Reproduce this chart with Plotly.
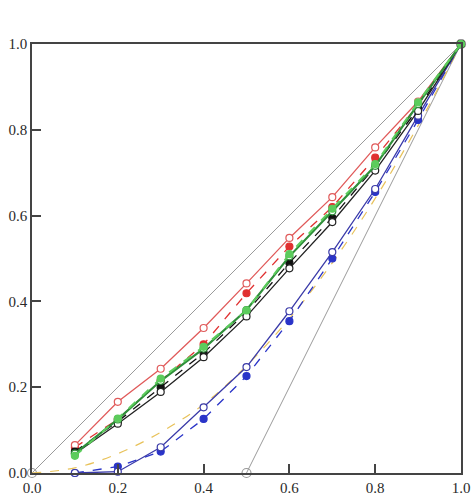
import plotly.graph_objects as go

x_pts = [0.1, 0.2, 0.3, 0.4, 0.5, 0.6, 0.7, 0.8, 0.9, 1.0]

red_open = [0.065, 0.166, 0.243, 0.338, 0.442, 0.548, 0.643, 0.759, 0.866, 1.0]
red_fill = [0.060, 0.125, 0.215, 0.300, 0.419, 0.528, 0.620, 0.735, 0.858, 1.0]
black_open = [0.045, 0.115, 0.189, 0.270, 0.365, 0.477, 0.585, 0.705, 0.844, 1.0]
black_fill = [0.050, 0.120, 0.200, 0.280, 0.375, 0.490, 0.595, 0.715, 0.850, 1.0]
green_open = [0.045, 0.125, 0.215, 0.290, 0.380, 0.505, 0.610, 0.716, 0.860, 1.0]
green_fill = [0.040, 0.127, 0.220, 0.294, 0.379, 0.510, 0.616, 0.720, 0.864, 1.0]
blue_open = [0.000, 0.003, 0.060, 0.153, 0.247, 0.377, 0.515, 0.662, 0.833, 1.0]
blue_fill = [0.000, 0.015, 0.050, 0.126, 0.226, 0.354, 0.500, 0.655, 0.823, 1.0]

yellow_x = [0.0, 0.1, 0.2, 0.3, 0.4, 0.5, 0.6, 0.7, 0.8, 0.9, 1.0]
yellow_y = [0.0, 0.012, 0.045, 0.095, 0.16, 0.25, 0.36, 0.49, 0.64, 0.81, 1.0]

diag_x = [0.0, 1.0]
diag_y = [0.0, 1.0]
steep_x = [0.5, 1.0]
steep_y = [0.0, 1.0]

fig = go.Figure()

GRAY = "#9a9a9a"
for xs, ys in ((diag_x, diag_y), (steep_x, steep_y)):
    fig.add_trace(go.Scatter(x=xs, y=ys, mode="lines+markers", cliponaxis=False,
                             line=dict(color=GRAY, width=1),
                             marker=dict(symbol="circle", size=9, color="rgba(255,255,255,0)",
                                         line=dict(color=GRAY, width=1.2))))
fig.add_trace(go.Scatter(x=yellow_x, y=yellow_y, mode="lines", line_shape="spline",
                         line=dict(color="#e8c25a", width=1.2, dash="dash")))


def series(y, color, filled, width=1.3):
    fig.add_trace(go.Scatter(
        x=x_pts, y=y, mode="lines+markers", cliponaxis=False,
        line=dict(color=color, width=width, dash="dash" if filled else "solid"),
        marker=dict(symbol="circle", size=7,
                    color=color if filled else "white",
                    line=dict(color=color, width=1.2))))


series(blue_fill, "#2a34c8", True)
series(blue_open, "#3a3aa8", False)
series(red_fill, "#e03030", True)
series(red_open, "#e05a5a", False)
series(black_fill, "#111111", True)
series(black_open, "#222222", False)
series(green_open, "#2f8f3a", False, 2.2)
series(green_fill, "#5ccc5c", True, 2.0)

fig.update_layout(
    width=474, height=503,
    margin=dict(l=32, r=13, t=44, b=30),
    paper_bgcolor="white", plot_bgcolor="white",
    showlegend=False,
    font=dict(family="Liberation Serif", size=15, color="#2a2a2a"),
)

for upd in (fig.update_xaxes, fig.update_yaxes):
    upd(range=[0, 1], dtick=0.2, tick0=0, tickformat=".1f",
        showline=True, linecolor="#444444", linewidth=1.5, mirror=True,
        showgrid=False, zeroline=False, automargin=False,
        ticks="inside", ticklen=9, tickwidth=2, tickcolor="#444444")

fig.write_html("out.html", config={"displayModeBar": False},
               post_script="document.body.style.margin='0';document.body.style.overflow='hidden';")
